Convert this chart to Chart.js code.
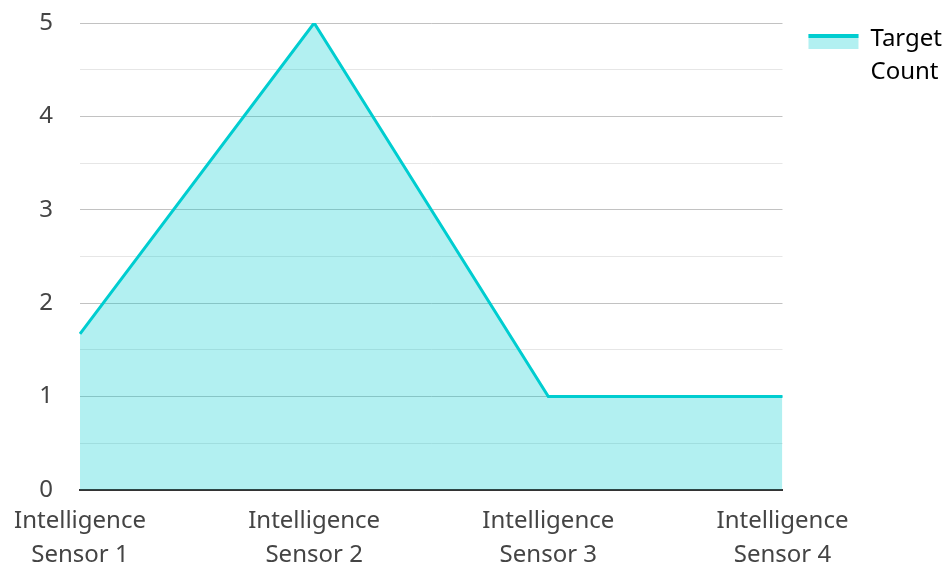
<!DOCTYPE html>
<html>
<head>
<meta charset="utf-8">
<script src="https://cdn.jsdelivr.net/npm/chart.js@4/dist/chart.umd.min.js"></script>
<style>
  html, body { margin: 0; padding: 0; background: #fff; }
  #wrap { width: 942px; height: 562px; }
</style>
</head>
<body>
<div id="wrap"><canvas id="chart"></canvas></div>
<script>
// données du graphique
const categories = [
    ['Intelligence', 'Sensor 1'],
    ['Intelligence', 'Sensor 2'],
    ['Intelligence', 'Sensor 3'],
    ['Intelligence', 'Sensor 4']
];
const targetCount = [1.67, 5, 1, 1];
const seriesLabel = ['Target', 'Count'];

const lineColor = '#00cdd0';
const fillColor = 'rgba(0, 206, 209, 0.3)';

// case de légende "aire" : trait épais en haut, remplissage dessous
const legendBoxPlugin = {
    id: 'legendBox',
    afterDraw(chart) {
        const legend = chart.legend;
        if (!legend || !legend.legendHitBoxes) return;
        const ctx = chart.ctx;
        legend.legendHitBoxes.forEach(box => {
            const top = box.top + 7;
            ctx.save();
            ctx.fillStyle = 'rgb(178, 240, 241)';
            ctx.fillRect(box.left, top, 50, 15);
            ctx.fillStyle = lineColor;
            ctx.fillRect(box.left, top, 50, 4);
            ctx.restore();
        });
    }
};

Chart.defaults.font.family = '"Noto Sans", "Open Sans", sans-serif';
Chart.defaults.color = '#444';

const ctx = document.getElementById('chart').getContext('2d');
new Chart(ctx, {
    type: 'line',
    data: {
        labels: categories,
        datasets: [{
            label: seriesLabel,
            data: targetCount,
            borderColor: lineColor,
            backgroundColor: fillColor,
            borderWidth: 3,
            fill: 'origin',
            tension: 0,
            pointRadius: 0,
            pointHoverRadius: 0
        }]
    },
    options: {
        responsive: true,
        maintainAspectRatio: false,
        animation: false,
        layout: { padding: { top: 1, right: -10, left: 0, bottom: -24 } },
        scales: {
            x: {
                offset: false,
                grid: { display: false, drawTicks: false },
                border: { display: true, color: '#333', width: 2 },
                ticks: {
                    font: { size: 24, lineHeight: 1.42 },
                    color: '#444',
                    padding: 14,
                    maxRotation: 0,
                    autoSkip: false
                }
            },
            y: {
                min: 0,
                max: 5,
                afterFit(scale) { scale.width = 80; },
                border: { display: false },
                grid: {
                    drawTicks: true,
                    tickLength: 18.4,
                    tickColor: 'rgba(0,0,0,0)',
                    color: c => (c.tick && Number.isInteger(c.tick.value)) ? '#c2c2c2' : '#e6e6e6',
                    lineWidth: 1
                },
                ticks: {
                    stepSize: 0.5,
                    padding: 8.6,
                    font: { size: 24 },
                    color: '#444',
                    callback: v => Number.isInteger(v) ? v : ''
                }
            }
        },
        plugins: {
            legend: {
                display: true,
                position: 'right',
                align: 'start',
                labels: {
                    boxWidth: 50,
                    boxHeight: 15,
                    padding: 26,
                    font: { size: 24, lineHeight: 1.375 },
                    color: '#222',
                    generateLabels(chart) {
                        const ds = chart.data.datasets[0];
                        return [{
                            text: ds.label,
                            fillStyle: 'rgba(0,0,0,0)',
                            strokeStyle: 'rgba(0,0,0,0)',
                            lineWidth: 0,
                            hidden: false,
                            datasetIndex: 0
                        }];
                    }
                }
            },
            tooltip: { enabled: false }
        }
    },
    plugins: [legendBoxPlugin]
});
</script>
</body>
</html>
